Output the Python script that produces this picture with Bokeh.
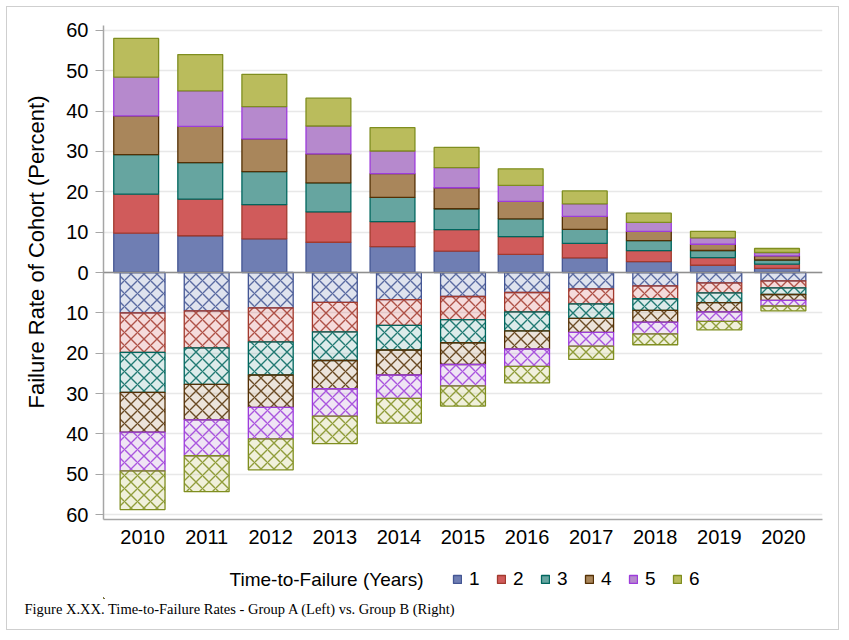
from bokeh.plotting import figure
from bokeh.layouts import column
from bokeh.models import (ColumnDataSource, Range1d, FixedTicker, Legend, LegendItem,
                          Label, Title, Span, CustomJSTickFormatter)
from bokeh.transform import dodge
from bokeh.embed import file_html
from bokeh.resources import INLINE

years = ["2010", "2011", "2012", "2013", "2014", "2015", "2016", "2017", "2018", "2019", "2020"]
ttf_labels = ["1", "2", "3", "4", "5", "6"]
legend_title = "Time-to-Failure (Years)"
caption = "Figure X.XX. Time-to-Failure Rates - Group A (Left) vs. Group B (Right)"

# Group A (left, solid) - failure rate by time-to-failure year
a1 = [9.75, 9.1, 8.35, 7.5, 6.4, 5.3, 4.5, 3.6, 2.7, 1.8, 1.0]
a2 = [9.65, 9.1, 8.45, 7.5, 6.2, 5.3, 4.4, 3.6, 2.7, 1.9, 1.06]
a3 = [9.8, 9.0, 8.2, 7.2, 6.0, 5.2, 4.4, 3.5, 2.5, 1.75, 1.04]
a4 = [9.6, 9.0, 8.1, 7.2, 5.9, 5.2, 4.3, 3.2, 2.3, 1.55, 1.0]
a5 = [9.6, 8.8, 8.0, 6.9, 5.6, 5.0, 4.0, 3.1, 2.2, 1.6, 0.86]
a6 = [9.6, 9.0, 8.0, 6.9, 5.8, 5.0, 4.1, 3.2, 2.3, 1.6, 0.99]

# Group B (right, hatched)
b1 = [10.0, 9.5, 8.75, 7.4, 6.7, 5.95, 4.96, 4.05, 3.3, 2.56, 2.07]
b2 = [9.8, 9.2, 8.45, 7.3, 6.4, 5.75, 4.8, 3.7, 3.2, 2.5, 1.73]
b3 = [9.9, 9.0, 8.2, 7.1, 6.1, 5.7, 4.7, 3.6, 2.9, 2.4, 1.65]
b4 = [9.85, 8.8, 8.0, 7.0, 6.2, 5.4, 4.5, 3.5, 2.9, 2.3, 1.45]
b5 = [9.6, 8.9, 7.8, 6.8, 5.8, 5.3, 4.3, 3.4, 2.9, 2.35, 1.4]
b6 = [9.6, 8.9, 7.7, 6.8, 6.1, 5.0, 4.1, 3.3, 2.7, 2.1, 1.2]

y_ticks = [-60, -50, -40, -30, -20, -10, 0, 10, 20, 30, 40, 50, 60]

fills = ["#6F7EB3", "#D05B5B", "#66A5A0", "#A9865B", "#B689CD", "#BABC5C"]
lines = ["#445694", "#A23A2E", "#01665E", "#543005", "#9D3CDB", "#7F8E1F"]

A = [a1, a2, a3, a4, a5, a6]
B = [b1, b2, b3, b4, b5, b6]
data = {"x": list(range(len(years)))}
for k in range(6):
    data["a%d" % (k + 1)] = A[k]
    data["b%d" % (k + 1)] = [-v for v in B[k]]
src = ColumnDataSource(data)

FONT = "Liberation Sans"

# ---------------- main chart ----------------
p = figure(width=831, height=553, title=None,
           x_range=Range1d(-0.61, 10.61), y_range=Range1d(-61.2, 61.2),
           output_backend="svg", toolbar_location=None,
           min_border_left=96, min_border_right=16, min_border_top=18, min_border_bottom=41)
p.outline_line_color = None
p.background_fill_color = "white"
p.border_fill_color = "white"

ra = p.vbar_stack(["a%d" % (k + 1) for k in range(6)], x=dodge("x", -0.1), width=0.7,
                  source=src, fill_color=fills, line_color=lines, line_width=1.3)
rb = p.vbar_stack(["b%d" % (k + 1) for k in range(6)], x="x", width=0.7,
                  source=src, fill_color=fills, fill_alpha=0.22, line_color=lines,
                  line_width=1.3, hatch_pattern="diagonal_cross", hatch_color=lines,
                  hatch_scale=13, hatch_weight=1.4, hatch_alpha=0.85)

p.add_layout(Span(location=0, dimension="width", line_color="#8f8f8f", line_width=1.5))

p.xgrid.visible = False
p.ygrid.ticker = FixedTicker(ticks=y_ticks)
p.ygrid.grid_line_color = "#e8e8e8"
p.ygrid.grid_line_width = 1.5

p.yaxis.ticker = FixedTicker(ticks=y_ticks)
p.yaxis.formatter = CustomJSTickFormatter(code="return Math.abs(tick).toFixed(0);")
p.yaxis.major_tick_out = 8
p.yaxis.major_tick_in = 0
p.yaxis.major_tick_line_color = "#a6a6a6"
p.yaxis.minor_tick_line_color = None
p.yaxis.major_label_standoff = 7

p.xaxis.ticker = FixedTicker(ticks=list(range(len(years))))
p.xaxis.formatter = CustomJSTickFormatter(args=dict(labels=years),
                                          code="var i = Math.round(tick); return labels[i] || '';")
p.xaxis.major_tick_line_color = None
p.xaxis.major_tick_out = 0
p.xaxis.major_tick_in = 0
p.xaxis.minor_tick_line_color = None
p.xaxis.major_label_standoff = 10

for ax in (p.xaxis[0], p.yaxis[0]):
    ax.axis_line_color = "#a6a6a6"
    ax.axis_line_width = 1.5
    ax.major_label_text_font = FONT
    ax.major_label_text_font_size = "20px"
    ax.major_label_text_color = "black"

p.add_layout(Title(text="Failure Rate of Cohort (Percent)", align="left", offset=111,
                   standoff=29, text_font=FONT, text_font_size="22px",
                   text_font_style="normal", text_color="black"), "left")

# ---------------- legend / caption strip ----------------
# (its frame is aligned with the chart frame by the column layout)
q = figure(width=831, height=69, title=None, x_range=Range1d(11, 12),
           y_range=Range1d(20, 21),
           x_axis_type=None, y_axis_type=None, output_backend="svg", toolbar_location=None,
           min_border_left=96, min_border_right=16, min_border_top=0, min_border_bottom=31)
q.grid.visible = False
q.outline_line_color = None
q.background_fill_color = "white"
q.border_fill_color = "white"

# key renderers (same data, outside this strip's ranges) so the legend shows the styles
key_r = [q.vbar(x="x", top="a%d" % (k + 1), width=0.7, source=src, fill_color=fills[k],
                line_color=lines[k], line_width=1.3) for k in range(6)]
items = [LegendItem(label=ttf_labels[k], renderers=[key_r[k]]) for k in range(6)]
legend = Legend(items=items, orientation="horizontal", location=(349, 8),
                glyph_width=10, glyph_height=10, label_height=10, label_width=20,
                label_standoff=7, spacing=7, padding=0, margin=0,
                border_line_alpha=0, background_fill_alpha=0,
                label_text_font=FONT, label_text_font_size="19px", label_text_color="black")
q.add_layout(legend)

q.add_layout(Label(x=320, y=19, x_units="screen", y_units="screen", text=legend_title,
                   text_align="right", text_baseline="middle", text_font=FONT,
                   text_font_size="19px", text_color="black"))
q.add_layout(Title(text=caption, align="left", offset=-79, standoff=0,
                   text_font="Liberation Serif", text_font_size="14.5px",
                   text_font_style="normal", text_color="black"), "below")

layout = column(p, q, spacing=0,
                styles={"margin-left": "6px", "margin-top": "6px",
                        "border": "1px solid #cfcfcf"})

open("out.html", "w").write(file_html(layout, INLINE))
